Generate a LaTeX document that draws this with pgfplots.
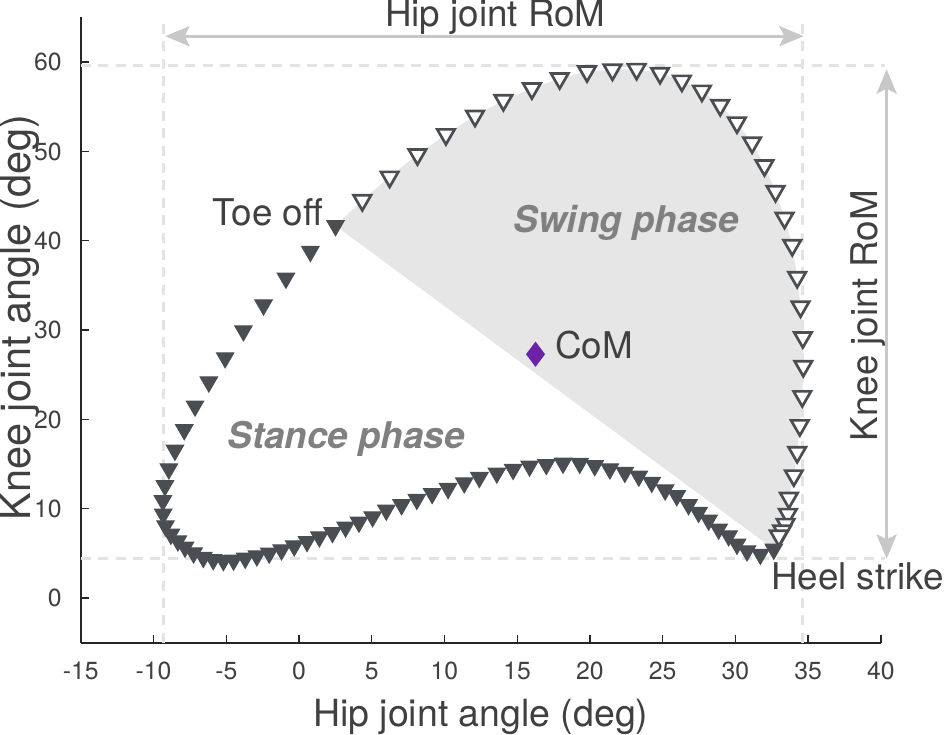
\documentclass[border=0pt]{standalone}
\usepackage{fontspec}
\setmainfont{TeX Gyre Heros}
\usepackage{pgfplots}
\pgfplotsset{compat=1.18}
\usetikzlibrary{arrows.meta}

\definecolor{mk}{HTML}{4A4E53}
\definecolor{txt}{HTML}{404040}
\definecolor{guide}{HTML}{E3E3E3}
\definecolor{arr}{HTML}{C8C8C8}
\definecolor{swingfill}{HTML}{E6E6E6}
\definecolor{com}{HTML}{6B21A8}
\definecolor{phase}{HTML}{808080}

\begin{document}
\begin{tikzpicture}
\begin{axis}[
  scale only axis, width=239.1pt, height=186.9pt,
  xmin=-15, xmax=40, ymin=-5, ymax=65,
  axis lines=left,
  axis line style={-, draw=black!85, line width=0.5pt},
  xtick={-15,-10,...,40}, ytick={0,10,...,60},
  tick align=inside, major tick length=2.4pt,
  tick style={black!85, line width=0.4pt},
  tick label style={font=\fontsize{7.4}{8}\selectfont, text=txt},
  /pgf/number format/assume math mode=true,
  xticklabel style={yshift=-2.2pt},
  yticklabel style={xshift=-2.2pt},
  xlabel={Hip joint angle (deg)},
  ylabel={Knee joint angle (deg)},
  every axis x label/.style={at={(axis description cs:0.5,-0.134)}, anchor=base,
    inner sep=0pt, font=\fontsize{11.2}{14}\selectfont, text=txt},
  every axis y label/.style={at={(axis description cs:-0.0765,0.52)}, rotate=90, anchor=center,
    inner sep=0pt, font=\fontsize{12.4}{15}\selectfont, text=txt},
  clip=false,
]
% range guides
\addplot[guide, line width=0.9pt, dash pattern=on 3pt off 2.2pt] coordinates {(-9.3,-5) (-9.3,65)};
\addplot[guide, line width=0.9pt, dash pattern=on 3pt off 2.2pt] coordinates {(34.62,-5) (34.62,65)};
\addplot[guide, line width=0.9pt, dash pattern=on 3pt off 2.2pt] coordinates {(-15,59.6) (40.3,59.6)};
\addplot[guide, line width=0.9pt, dash pattern=on 3pt off 2.2pt] coordinates {(-15,4.4) (40.3,4.4)};

% swing phase area (toe off -> heel strike)
\addplot[fill=swingfill, draw=none] coordinates {
  (2.51,41.69) (4.35,44.53) (6.23,47.15) (8.14,49.66) (10.10,51.91)
  (12.10,53.97) (14.05,55.73) (16.01,57.04) (17.92,58.17) (19.80,58.95)
  (21.55,59.14) (23.21,59.21) (24.82,58.76) (26.32,57.90) (27.70,56.78)
  (28.96,55.17) (30.11,53.22) (31.15,50.98) (32.00,48.43) (32.76,45.54)
  (33.38,42.55) (33.91,39.50) (34.25,35.92) (34.48,32.62) (34.64,29.18)
  (34.67,25.96) (34.60,22.58) (34.43,19.33) (34.25,16.33) (34.02,13.71)
  (33.68,11.20) (33.61,9.40) (33.45,8.28) (33.22,7.53) (32.99,6.97)
  (32.64,5.47)
} -- cycle;

% range arrows
\draw[arr, line width=0.9pt, {Stealth[length=7.3pt,width=6pt,inset=1.5pt]}-{Stealth[length=7.3pt,width=6pt,inset=1.5pt]}]
  (axis cs:-9.2,62.9) -- (axis cs:34.7,62.9);
\draw[arr, line width=0.9pt, {Stealth[length=7.3pt,width=6pt,inset=1.5pt]}-{Stealth[length=7.3pt,width=6pt,inset=1.5pt]}]
  (axis cs:40.4,59.2) -- (axis cs:40.4,4.4);

% stance phase (heel strike -> toe off)
\addplot[only marks, mark=triangle*, mark size=3pt,
  mark options={rotate=180, fill=mk, draw=mk, line width=0.3pt}] coordinates {
  (32.64,5.47) (31.72,4.90) (30.80,5.28) (30.11,6.03) (29.54,6.97)
  (28.85,7.72) (28.16,8.73) (27.47,9.59) (26.78,10.45) (25.97,11.46)
  (25.17,12.10) (24.25,12.96) (23.36,13.65) (22.40,14.08) (21.37,14.46)
  (20.33,14.83) (19.30,15.09) (18.15,15.10) (17.00,14.95) (15.85,14.78)
  (14.72,14.40) (13.60,14.00) (12.40,13.50) (11.36,12.90) (10.25,12.27)
  (9.15,11.70) (8.10,11.05) (7.05,10.45) (6.00,9.85) (5.06,9.10)
  (4.12,8.50) (3.20,7.95) (2.30,7.34) (1.40,6.85) (0.55,6.33)
  (-0.33,5.84) (-1.20,5.40) (-2.05,5.03) (-2.90,4.72) (-3.70,4.46)
  (-4.50,4.25) (-5.20,4.20) (-5.90,4.30) (-6.58,4.55) (-7.25,5.05)
  (-7.84,5.70) (-8.33,6.40) (-8.81,7.15) (-9.18,8.09) (-9.34,9.40)
  (-9.36,10.90) (-9.22,12.58) (-8.95,14.46) (-8.53,16.55) (-7.89,18.85)
  (-7.15,21.50) (-6.20,24.19) (-5.08,26.90) (-3.82,29.92) (-2.44,32.81)
  (-0.90,35.81) (0.78,38.80) (2.51,41.69)
};

% swing phase
\addplot[only marks, mark=triangle*, mark size=3pt,
  mark options={rotate=180, fill=white, draw=mk, line width=0.8pt}] coordinates {
  (4.35,44.53) (6.23,47.15) (8.14,49.66) (10.10,51.91) (12.10,53.97)
  (14.05,55.73) (16.01,57.04) (17.92,58.17) (19.80,58.95) (21.55,59.14)
  (23.21,59.21) (24.82,58.76) (26.32,57.90) (27.70,56.78) (28.96,55.17)
  (30.11,53.22) (31.15,50.98) (32.00,48.43) (32.76,45.54) (33.38,42.55)
  (33.91,39.50) (34.25,35.92) (34.48,32.62) (34.64,29.18) (34.67,25.96)
  (34.60,22.58) (34.43,19.33) (34.25,16.33) (34.02,13.71) (33.68,11.20)
  (33.61,9.40) (33.45,8.28) (33.22,7.53) (32.99,6.97)
};

% centre of mass
\addplot[only marks, mark=diamond*, mark size=3.45pt,
  mark options={fill=com, draw=com}] coordinates {(16.26,27.3)};

% annotations
\begin{scope}[font=\fontsize{11}{13}\selectfont, text=txt, inner sep=0pt]
\node[anchor=base] at (axis cs:13.5,63.95) {Hip joint RoM};
\node[anchor=base, rotate=90] at (axis cs:39.8,31.6) {Knee joint RoM};
\node[anchor=base east] at (axis cs:1.7,41.7) {Toe off};
\node[anchor=base west] at (axis cs:17.57,26.85) {CoM};
\node[anchor=base west] at (axis cs:32.41,0.98) {Heel strike};
\node[anchor=base, text=phase, font=\fontsize{11}{13}\selectfont\bfseries\itshape] at (axis cs:22.5,40.9) {Swing phase};
\node[anchor=base, text=phase, font=\fontsize{11}{13}\selectfont\bfseries\itshape] at (axis cs:3.25,16.7) {Stance phase};
\end{scope}
\end{axis}
\end{tikzpicture}
\end{document}
